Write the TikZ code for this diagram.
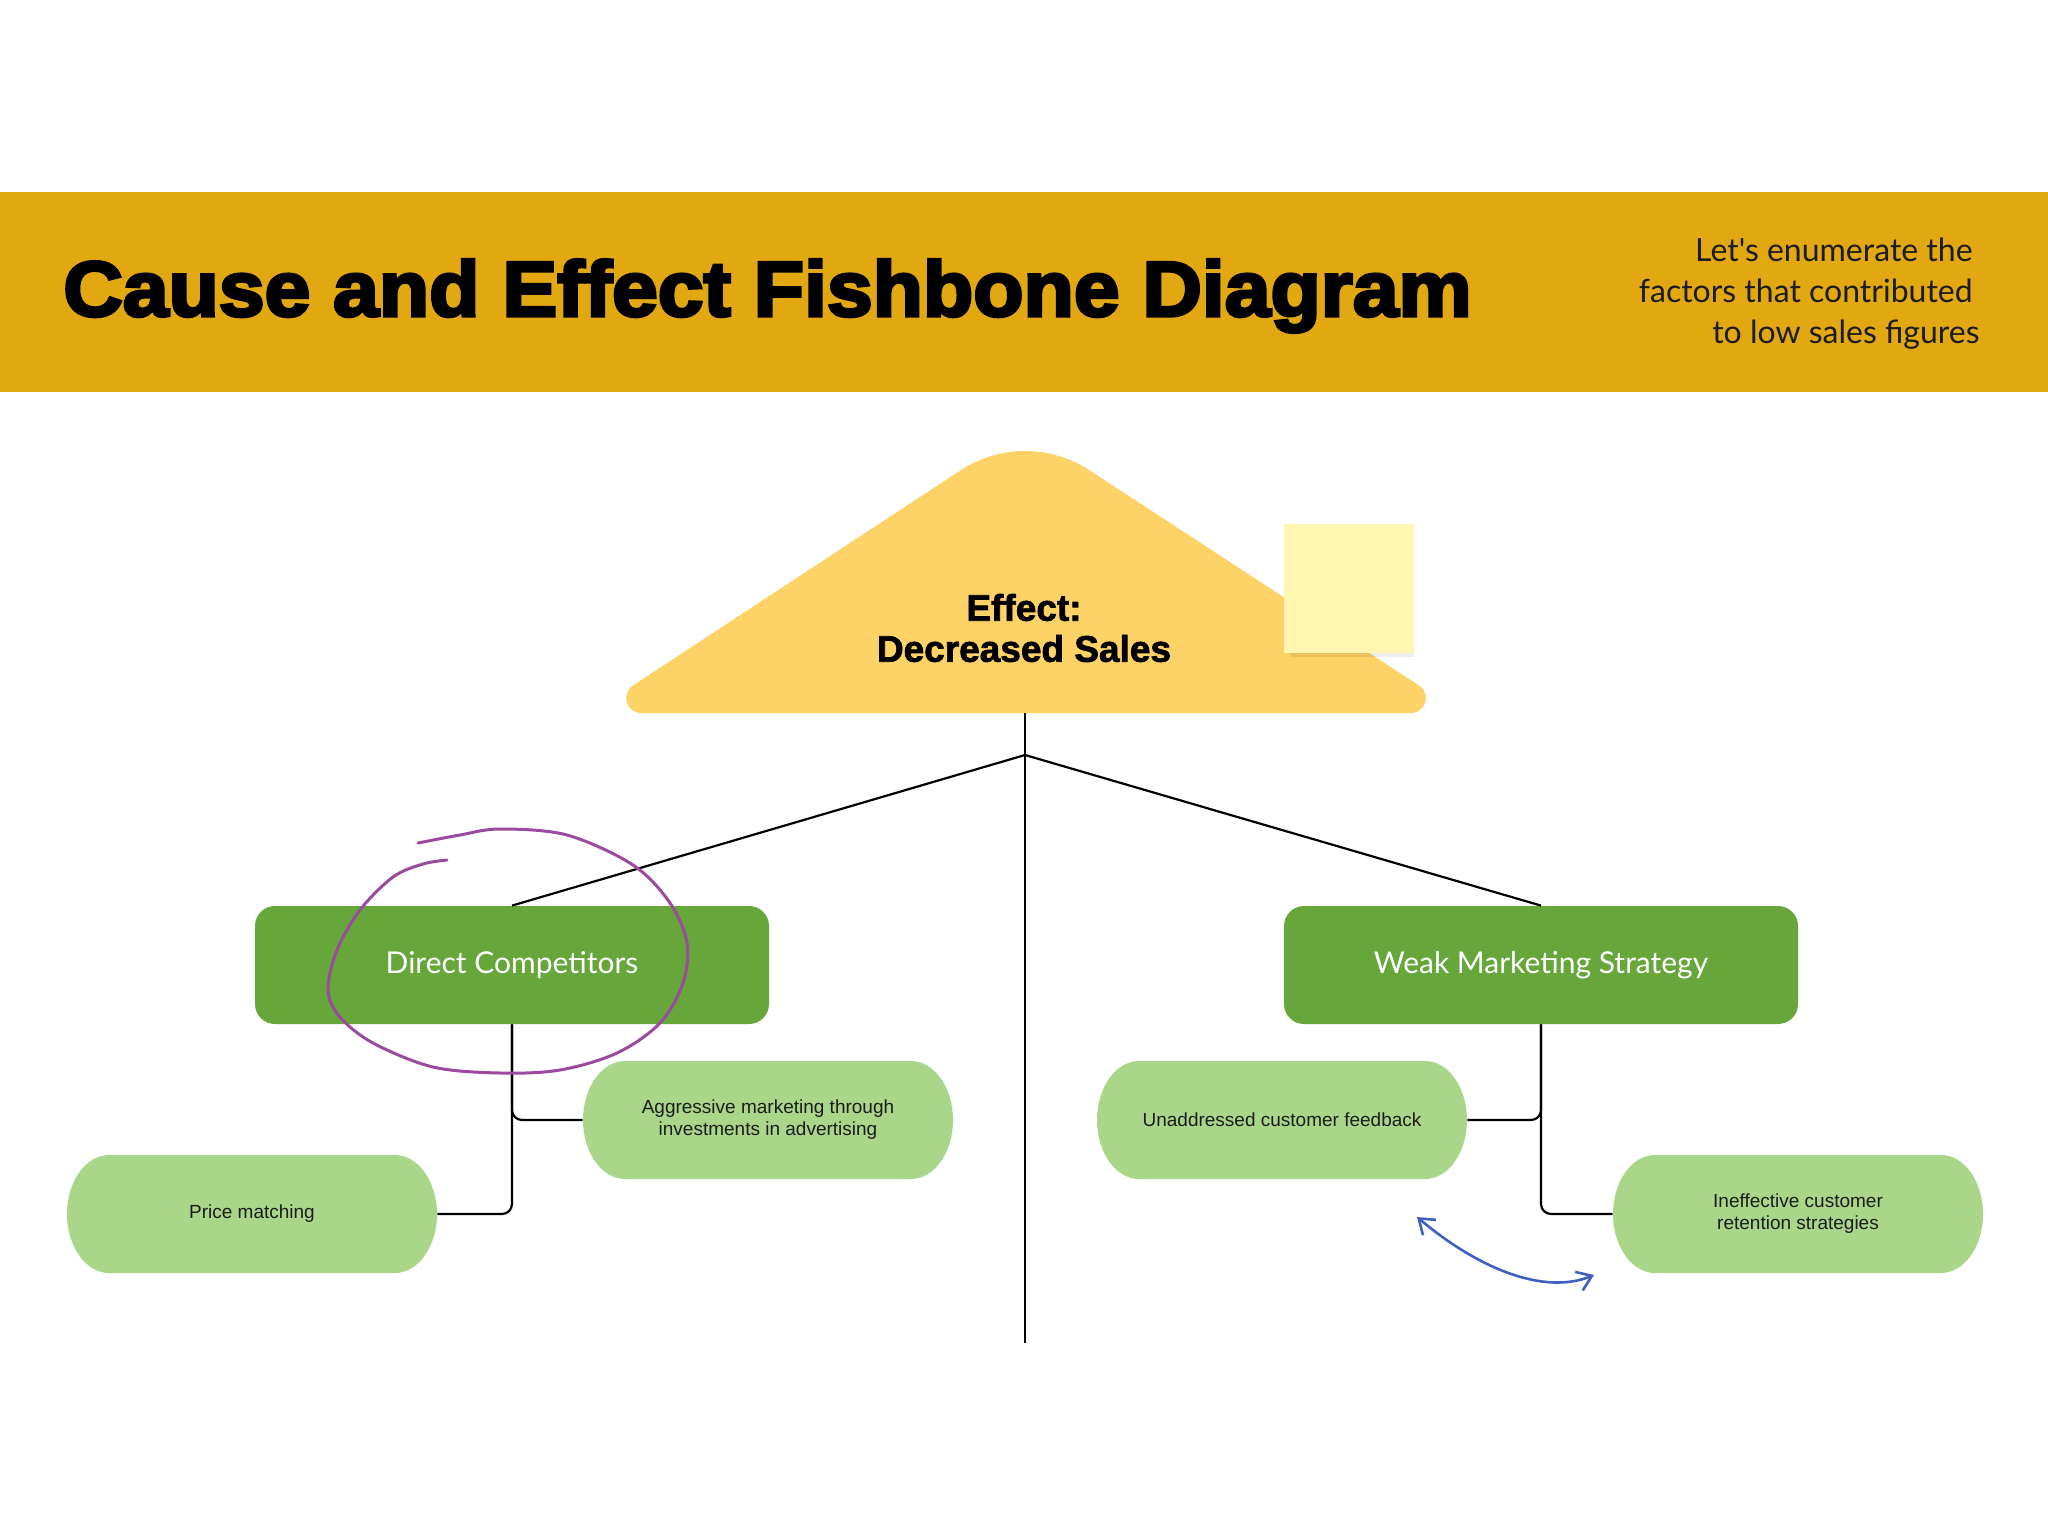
\documentclass[tikz,border=0pt]{standalone}
\usepackage{fontspec}
\usetikzlibrary{arrows.meta}
\setmainfont{Liberation Sans}
\newfontfamily\titlefont[FakeBold=4,FakeStretch=1.055]{Liberation Sans Bold}
\newfontfamily\effectfont[FakeBold=2]{Liberation Sans Bold}
\newfontfamily\labelfont{Lato}
\definecolor{bannercol}{RGB}{225,168,17}
\definecolor{trifill}{RGB}{253,210,102}
\definecolor{stickycol}{RGB}{255,246,178}
\definecolor{darkgreen}{RGB}{103,166,58}
\definecolor{lightgreen}{RGB}{170,214,138}
\definecolor{scribble}{RGB}{155,75,158}
\definecolor{bluearrow}{RGB}{64,96,192}
\definecolor{inktext}{RGB}{28,28,28}
\tikzset{
  causebox/.style={fill=darkgreen, rounded corners=10pt, minimum width=257pt, minimum height=59pt,
    inner sep=0pt, text=white, font=\labelfont\fontsize{15}{18}\selectfont},
  pilltext/.style={minimum width=185pt, minimum height=59pt, inner sep=0pt, align=center,
    text=inktext, font=\fontsize{9.5}{11}\selectfont},
  conn/.style={draw=black, line width=1.1pt, rounded corners=5pt},
  subline/.style={anchor=base east, inner sep=0pt, text=inktext, font=\labelfont\fontsize{16}{19}\selectfont},
  barbtip/.tip={Straight Barb[length=7pt,width=10pt]},
}
\begin{document}
\begin{tikzpicture}[x=0.5pt,y=-0.5pt]
\useasboundingbox (0,0) rectangle (2048,1536);
\fill[white] (0,0) rectangle (2048,1536);
% banner
\fill[bannercol] (0,192) rectangle (2048,392);
\node[anchor=base west, inner sep=0pt, font=\titlefont\fontsize{39}{39}\selectfont] (title) at (63,316) {Cause and Effect Fishbone Diagram};
\node[subline] (sub1) at (1973,261) {Let's enumerate the};
\node[subline] (sub2) at (1973,302) {factors that contributed};
\node[subline] (sub3) at (1980,343) {to low sales figures};
% effect head
\fill[trifill] (641.2,713) arc[start angle=90,end angle=236.7,radius=15]
  -- (960.8,470.2) arc[start angle=236.7,end angle=303.3,radius=117]
  -- (1419,685.5) arc[start angle=303.3,end angle=450,radius=15] -- cycle;
\fill[black, opacity=0.07] (1290,653) rectangle (1414,657);
\fill[stickycol] (1284,524) rectangle (1414,653);
\node[align=center, inner sep=0pt, font=\effectfont\fontsize{18.5}{20.5}\selectfont] (effect) at (1024,628) {Effect:\\Decreased Sales};
\coordinate (head) at (1025,713);
\coordinate (tail) at (1025,1343);
\coordinate (fork) at (1025,755);
% causes
\node[causebox] (dc) at (512,965) {Direct Competitors};
\node[causebox] (wm) at (1541,965) {Weak Marketing Strategy};
% pills
\fill[lightgreen] (625,1061) -- (911,1061) arc[start angle=-90,end angle=90,x radius=42,y radius=59] -- (625,1179) arc[start angle=90,end angle=270,x radius=42,y radius=59] -- cycle;
\fill[lightgreen] (109,1155) -- (395,1155) arc[start angle=-90,end angle=90,x radius=42,y radius=59] -- (109,1273) arc[start angle=90,end angle=270,x radius=42,y radius=59] -- cycle;
\fill[lightgreen] (1139,1061) -- (1425,1061) arc[start angle=-90,end angle=90,x radius=42,y radius=59] -- (1139,1179) arc[start angle=90,end angle=270,x radius=42,y radius=59] -- cycle;
\fill[lightgreen] (1655,1155) -- (1941,1155) arc[start angle=-90,end angle=90,x radius=42,y radius=59] -- (1655,1273) arc[start angle=90,end angle=270,x radius=42,y radius=59] -- cycle;
\node[pilltext] (agg) at (768,1120) {Aggressive marketing through\\investments in advertising};
\node[pilltext] (price) at (252,1214) {Price matching};
\node[pilltext] (unad) at (1282,1120) {Unaddressed customer feedback};
\node[pilltext] (ineff) at (1798,1214) {Ineffective customer\\retention strategies};
% bones
\draw[conn] (head) -- (tail);
\draw[conn] (fork) -- (dc.north);
\draw[conn] (fork) -- (wm.north);
\draw[conn] (dc.south) |- (agg.west);
\draw[conn] (dc.south) |- (price.east);
\draw[conn] (wm.south) |- (unad.east);
\draw[conn] (wm.south) |- (ineff.west);
% annotations
\draw[scribble, line width=1.5pt, line cap=round, line join=round] plot[smooth, tension=0.55] coordinates {
 (418,843) (460,835) (500,829) (567,835) (633,865) (670,903) (687,943) (683,983) (660,1023) (617,1053) (560,1070) (500,1073) (433,1067) (373,1043) (340,1017) (328,990) (337,950) (360,910) (393,877) (423,864) (447,860)};
\coordinate (a1) at (1417,1217);
\coordinate (a2) at (1594,1275);
\draw[bluearrow, line width=1.3pt, barbtip-barbtip] (a1) .. controls (1480,1270) and (1545,1295) .. (a2);
\end{tikzpicture}
\end{document}
